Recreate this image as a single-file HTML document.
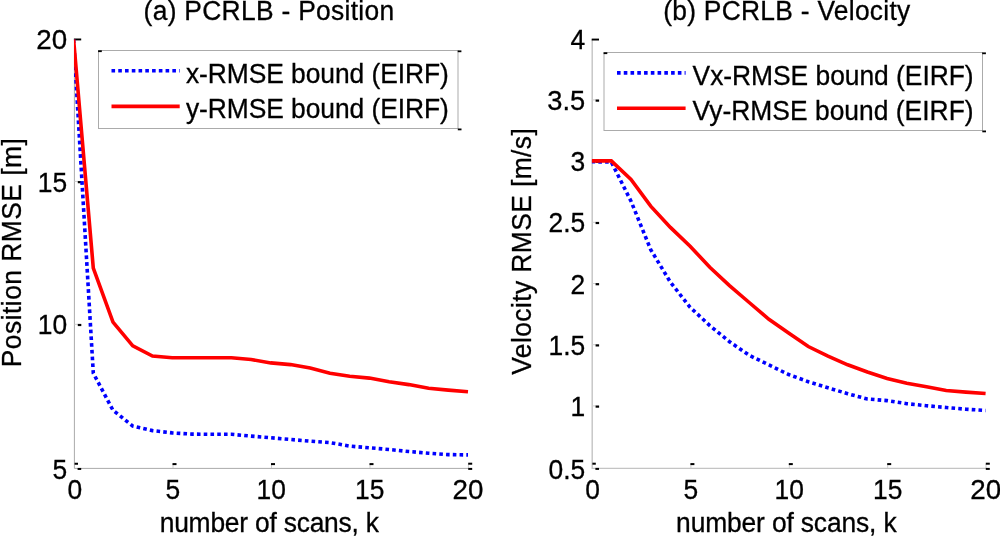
<!DOCTYPE html>
<html><head><meta charset="utf-8"><title>PCRLB</title>
<style>
html,body{margin:0;padding:0;background:#fff;}
svg{display:block}
text{font-family:"Liberation Sans",Arial,sans-serif;fill:#000;stroke:#000;stroke-width:0.3px;}
.ax{stroke:#ababab;stroke-width:1;fill:none}
.ax2{stroke:#c4c4c4;stroke-width:1.4;fill:none}
.fa{stroke:#cfcfcf;stroke-width:1;fill:none}
.red{stroke:#ff0000;stroke-width:3.6;fill:none;stroke-linejoin:miter}
.blue{stroke:#0000ff;stroke-width:3.6;fill:none;stroke-dasharray:3.6 3.16;stroke-linejoin:miter}
.k{fill:#000}
</style></head><body>
<svg width="1000" height="537" viewBox="0 0 1000 537">
<rect width="1000" height="537" fill="#fff"/>
<defs>
<clipPath id="cl"><rect x="73.9" y="36" width="398" height="434"/></clipPath>
<clipPath id="cr"><rect x="591.8" y="36" width="398" height="434"/></clipPath>
</defs>

<path class="ax" d="M74.4 39.5 V468.4 H468.4"/>
<rect class="k" x="73.9" y="38.5" width="7.3" height="1.9"/>
<path class="fa" d="M74.5 181.45 H78.0"/>
<rect class="k" x="77.8" y="181.04999999999998" width="3.5" height="2.2"/>
<path class="fa" d="M74.5 324.3 H78.0"/>
<rect class="k" x="77.8" y="323.9" width="3.5" height="2.2"/>
<rect class="k" x="74.6" y="462.75" width="3.4" height="2"/>
<rect class="k" x="77.6" y="467.95" width="3.6" height="2"/>
<path class="fa" d="M173.0 464.5 V468.0"/>
<rect class="k" x="172.5" y="463.1" width="4" height="2"/>
<path class="fa" d="M271.5 464.5 V468.0"/>
<rect class="k" x="271.0" y="463.1" width="4" height="2"/>
<path class="fa" d="M370.0 464.5 V468.0"/>
<rect class="k" x="369.5" y="463.1" width="4" height="2"/>
<path class="fa" d="M468.4 464.0 V468.0"/>
<rect class="k" x="468.2" y="462.7" width="4" height="2"/>
<rect class="k" x="468.2" y="467.9" width="4" height="2"/>
<g clip-path="url(#cl)"><polyline class="blue" points="73.6,39.5 93.3,373.2 113.0,410.3 132.8,426.1 152.5,430.6 172.2,432.9 191.9,434.1 211.6,434.3 231.4,434.3 251.1,436.1 270.8,437.8 290.5,439.5 310.2,441.2 330.0,442.6 349.7,446.1 369.4,447.8 389.1,449.5 408.8,451.5 428.6,453.2 448.3,454.6 468.0,454.9"/><polyline class="red" points="73.6,39.5 93.3,268.1 113.0,322.1 132.8,345.8 152.5,356.1 172.2,357.8 191.9,357.8 211.6,357.8 231.4,357.8 251.1,359.5 270.8,362.9 290.5,364.6 310.2,368.1 330.0,373.2 349.7,376.3 369.4,378.1 389.1,381.8 408.8,384.6 428.6,388.3 448.3,390.1 468.0,391.8"/></g>
<rect class="ax" x="98.5" y="50.5" width="359.5" height="78.0" fill="#fff"/>
<rect class="k" x="98.1" y="50.3" width="3.7" height="1.8"/>
<rect class="k" x="457.7" y="50.4" width="3.7" height="1.8"/>
<rect class="k" x="457.8" y="128.5" width="3.7" height="1.8"/>
<path class="blue" d="M111.5 70.7 H179.7"/>
<path class="red" d="M111.5 106.4 H179.7"/>
<text font-size="26.4" textLength="263" lengthAdjust="spacing" transform="translate(185.9 82.6) scale(1 1.03)">x-RMSE bound (EIRF)</text>
<text font-size="26.4" textLength="263" lengthAdjust="spacing" transform="translate(185.9 118.0) scale(1 1.03)">y-RMSE bound (EIRF)</text>
<text font-size="26.4" text-anchor="end" textLength="30.9" lengthAdjust="spacingAndGlyphs" transform="translate(67.2 48.7) scale(1 1.045)">20</text>
<text font-size="26.4" text-anchor="end" transform="translate(67.2 191.5) scale(1 1.045)">15</text>
<text font-size="26.4" text-anchor="end" transform="translate(67.2 334.4) scale(1 1.045)">10</text>
<text font-size="26.4" text-anchor="end" transform="translate(67.2 478.6) scale(1 1.045)">5</text>
<text font-size="26.4" text-anchor="middle" transform="translate(74.9 499.2) scale(1 1.045)">0</text>
<text font-size="26.4" text-anchor="middle" transform="translate(172.8 499.2) scale(1 1.045)">5</text>
<text font-size="26.4" text-anchor="middle" transform="translate(271.3 499.2) scale(1 1.045)">10</text>
<text font-size="26.4" text-anchor="middle" transform="translate(369.8 499.2) scale(1 1.045)">15</text>
<text font-size="26.4" text-anchor="middle" textLength="30.9" lengthAdjust="spacingAndGlyphs" transform="translate(468.0 499.2) scale(1 1.045)">20</text>
<text font-size="26.4" textLength="250.5" lengthAdjust="spacing" transform="translate(143.6 19.8) scale(1 1.03)">(a) PCRLB - Position</text>
<text font-size="26.4" textLength="219.3" lengthAdjust="spacing" transform="translate(159.7 532.3) scale(1 1.03)">number of scans, k</text>
<text font-size="26.4" textLength="229" lengthAdjust="spacing" transform="translate(20.6 367.2) rotate(-90) scale(1 1.03)">Position RMSE [m]</text>
<path class="ax2" d="M592.1999999999999 39.6 V468.4 H986.0"/>
<rect class="k" x="591.6999999999999" y="38.6" width="7.3" height="1.9"/>
<path class="fa" d="M592.3 99.9 H595.8"/>
<rect class="k" x="595.5999999999999" y="99.50000000000001" width="3.5" height="2.2"/>
<path class="fa" d="M592.3 161.1 H595.8"/>
<rect class="k" x="595.5999999999999" y="160.7" width="3.5" height="2.2"/>
<path class="fa" d="M592.3 222.3 H595.8"/>
<rect class="k" x="595.5999999999999" y="221.9" width="3.5" height="2.2"/>
<path class="fa" d="M592.3 283.50000000000006 H595.8"/>
<rect class="k" x="595.5999999999999" y="283.1" width="3.5" height="2.2"/>
<path class="fa" d="M592.3 344.70000000000005 H595.8"/>
<rect class="k" x="595.5999999999999" y="344.3" width="3.5" height="2.2"/>
<path class="fa" d="M592.3 405.9000000000001 H595.8"/>
<rect class="k" x="595.5999999999999" y="405.50000000000006" width="3.5" height="2.2"/>
<rect class="k" x="592.4" y="462.70000000000005" width="3.4" height="2"/>
<rect class="k" x="595.4" y="467.90000000000003" width="3.6" height="2"/>
<path class="fa" d="M690.9 464.5 V468.0"/>
<rect class="k" x="690.4" y="463.1" width="4" height="2"/>
<path class="fa" d="M789.3 464.5 V468.0"/>
<rect class="k" x="788.8" y="463.1" width="4" height="2"/>
<path class="fa" d="M887.7 464.5 V468.0"/>
<rect class="k" x="887.2" y="463.1" width="4" height="2"/>
<path class="fa" d="M986.0 464.0 V468.0"/>
<rect class="k" x="985.8000000000001" y="462.7" width="4" height="2"/>
<rect class="k" x="985.8000000000001" y="467.9" width="4" height="2"/>
<g clip-path="url(#cr)"><polyline class="blue" points="591.6,161.8 611.3,161.9 631.0,201.2 650.7,249.6 670.4,282.2 690.1,307.3 709.8,325.6 729.5,341.7 749.2,355.3 768.9,364.9 788.6,374.5 808.3,381.7 828.0,387.8 847.7,393.7 867.4,399.0 887.1,400.6 906.8,403.7 926.5,405.7 946.2,407.5 965.9,409.2 985.6,410.5"/><polyline class="red" points="591.6,160.9 611.3,160.9 631.0,179.4 650.7,206.1 670.4,227.4 690.1,246.2 709.8,267.3 729.5,285.6 749.2,302.5 768.9,319.3 788.6,332.9 808.3,346.5 828.0,356.1 847.7,364.8 867.4,372.0 887.1,378.5 906.8,383.3 926.5,386.8 946.2,390.5 965.9,392.1 985.6,393.5"/></g>
<rect class="ax" x="604.0" y="52.5" width="378.5" height="78.0" fill="#fff"/>
<rect class="k" x="603.6" y="52.3" width="3.7" height="1.8"/>
<rect class="k" x="982.2" y="52.4" width="3.7" height="1.8"/>
<rect class="k" x="982.3" y="130.5" width="3.7" height="1.8"/>
<path class="blue" d="M617.0 72.9 H685.6"/>
<path class="red" d="M617.0 108.3 H685.6"/>
<text font-size="26.4" textLength="281" lengthAdjust="spacing" transform="translate(692.6 84.5) scale(1 1.03)">Vx-RMSE bound (EIRF)</text>
<text font-size="26.4" textLength="281" lengthAdjust="spacing" transform="translate(692.6 120.0) scale(1 1.03)">Vy-RMSE bound (EIRF)</text>
<text font-size="26.4" text-anchor="end" transform="translate(585.2 48.7) scale(1 1.045)">4</text>
<text font-size="26.4" text-anchor="end" textLength="37.9" lengthAdjust="spacingAndGlyphs" transform="translate(585.2 109.9) scale(1 1.045)">3.5</text>
<text font-size="26.4" text-anchor="end" transform="translate(585.2 171.1) scale(1 1.045)">3</text>
<text font-size="26.4" text-anchor="end" transform="translate(585.2 232.3) scale(1 1.045)">2.5</text>
<text font-size="26.4" text-anchor="end" transform="translate(585.2 293.5) scale(1 1.045)">2</text>
<text font-size="26.4" text-anchor="end" transform="translate(585.2 354.7) scale(1 1.045)">1.5</text>
<text font-size="26.4" text-anchor="end" transform="translate(585.2 415.9) scale(1 1.045)">1</text>
<text font-size="26.4" text-anchor="end" transform="translate(585.2 478.8) scale(1 1.045)">0.5</text>
<text font-size="26.4" text-anchor="middle" transform="translate(592.5 499.2) scale(1 1.045)">0</text>
<text font-size="26.4" text-anchor="middle" transform="translate(690.9 499.2) scale(1 1.045)">5</text>
<text font-size="26.4" text-anchor="middle" transform="translate(789.3 499.2) scale(1 1.045)">10</text>
<text font-size="26.4" text-anchor="middle" transform="translate(887.7 499.2) scale(1 1.045)">15</text>
<text font-size="26.4" text-anchor="middle" textLength="30.9" lengthAdjust="spacingAndGlyphs" transform="translate(985.8 499.2) scale(1 1.045)">20</text>
<text font-size="26.4" textLength="247" lengthAdjust="spacing" transform="translate(663.2 19.8) scale(1 1.03)">(b) PCRLB - Velocity</text>
<text font-size="26.4" textLength="220.5" lengthAdjust="spacing" transform="translate(676.1 532.3) scale(1 1.03)">number of scans, k</text>
<text font-size="26.4" textLength="246.5" lengthAdjust="spacing" transform="translate(530.8 374.7) rotate(-90) scale(1 1.03)">Velocity RMSE [m/s]</text>
</svg></body></html>
